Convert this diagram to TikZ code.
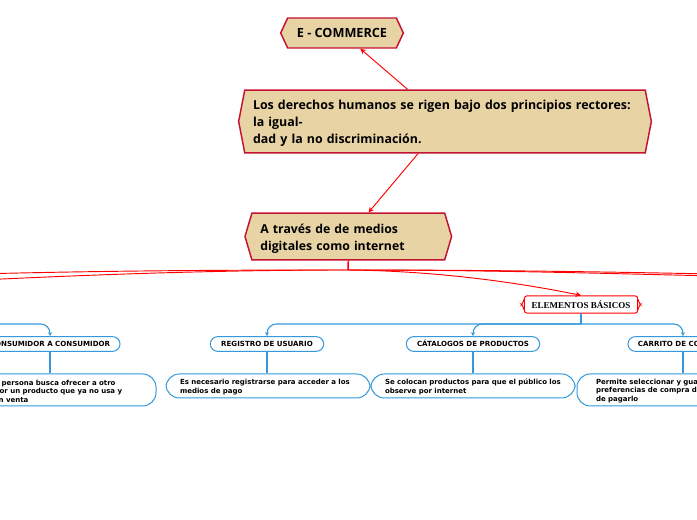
\documentclass[tikz,border=0pt]{standalone}
\usepackage{fontspec}
\setmainfont{Open Sans}
\newfontfamily\boxfont{DejaVu Sans}
\newfontfamily\serifont{Liberation Serif}
\usepackage{xcolor}
\usetikzlibrary{shapes.symbols, arrows.meta}
\definecolor{titlefill}{RGB}{232, 211, 165}
\definecolor{titleline}{RGB}{196, 18, 48}
\definecolor{linkred}{RGB}{255, 0, 0}
\definecolor{linkblue}{RGB}{52, 152, 219}

\begin{document}
\begin{tikzpicture}[x=0.75pt, y=-0.75pt,
    every node/.style={align=left},
    titlebox/.style={signal, signal to=west and east, draw=titleline, fill=titlefill, line width=1.1pt, inner ysep=0pt, font=\bfseries},
    headbox/.style={draw=linkblue, fill=white, rounded corners=5.5pt, line width=0.75pt, minimum height=11pt, inner sep=0pt, align=center, font=\boxfont\bfseries\fontsize{5.3}{6.4}\selectfont, execute at begin node={\rule[-0.6pt]{0pt}{5.2pt}}},
    textbox/.style={draw=linkblue, fill=white, rounded corners=10pt, line width=0.75pt, inner xsep=10.5pt, inner ysep=0pt, font=\boxfont\bfseries\fontsize{5.25}{6.4}\selectfont, execute at begin node={\rule{0pt}{5.6pt}}},
    redlink/.style={draw=linkred, line width=0.7pt},
    redarrow/.style={redlink, -{Stealth[length=4pt, width=4pt]}},
    bluelink/.style={draw=linkblue, line width=0.85pt},
    bluearrow/.style={bluelink, rounded corners=7pt, -{Stealth[length=3pt, width=3pt]}}]
        \useasboundingbox (0, 0) rectangle (697, 520);
        \clip (0, 0) rectangle (697, 520);

        % Main titles
        \node[titlebox, signal pointer angle=130, minimum width=92pt, minimum height=22.5pt, inner xsep=6.5pt, font=\bfseries\fontsize{9.5}{12}\selectfont] (ecommerce) at (342, 33) {E - COMMERCE};
        \node[titlebox, signal pointer angle=158, text width=288pt, minimum height=47pt, inner xsep=6.2pt, font=\bfseries\fontsize{9.3}{12.75}\selectfont, execute at begin node={\rule{0pt}{10.2pt}}] (derechos) at (445, 121.5) {Los derechos humanos se rigen bajo dos principios rectores:\\la igual-\\dad y la no discriminación.};
        \node[titlebox, signal pointer angle=147, text width=132pt, minimum height=35pt, inner xsep=6.3pt, font=\bfseries\fontsize{9.2}{12.75}\selectfont, execute at begin node={\rule{0pt}{10.2pt}}] (medios) at (348.3, 236.5) {A través de de medios\\digitales como internet};

        % Hubs and branches that leave the page
        \coordinate (redhub) at (348, 270);
        \coordinate (redoff1) at (-60, 275);
        \coordinate (redoff2) at (-60, 282);
        \coordinate (redoff3) at (760, 275);
        \coordinate (redoff4) at (760, 277);
        \coordinate (bluehub) at (581, 324);
        \coordinate (blueoff) at (-60, 324);

        % Second level
        \node[draw=linkred, fill=white, rounded corners=2pt, line width=0.75pt, minimum width=85pt, minimum height=13pt, inner sep=0pt, align=center, font=\serifont\bfseries\fontsize{6.75}{8}\selectfont] (elementos) at (581, 304.5) {ELEMENTOS BÁSICOS};

        % Headings
        \node[headbox, minimum width=105pt] (consumidor) at (50, 344) {CONSUMIDOR A CONSUMIDOR};
        \node[headbox, minimum width=85pt] (registro) at (267, 344) {REGISTRO DE USUARIO};
        \node[headbox, minimum width=100pt] (catalogos) at (473, 344) {CÁTALOGOS DE PRODUCTOS};
        \node[headbox, minimum width=82.5pt] (carrito) at (683, 344) {CARRITO DE COMPRAS};

        % Descriptions
        \node[textbox, text width=130.5pt, inner xsep=14.25pt, minimum height=24pt] (consumidortext) at (50, 390) {\hspace*{15.75pt}Una persona busca ofrecer a otro\\\hspace*{23.75pt}por un producto que ya no usa y\\\hspace*{23.25pt}en venta};
        \node[textbox, text width=132pt, minimum height=18pt] (registrotext) at (268, 386) {Es necesario registrarse para acceder a los\\medios de pago};
        \node[textbox, text width=132pt, minimum height=18pt] (catalogostext) at (473, 386) {Se colocan productos para que el público los\\observe por internet};
        \node[textbox, text width=130.5pt, inner xsep=14.25pt, minimum height=24pt] (carritotext) at (683, 390) {Permite seleccionar y guardar las\\preferencias de compra de\\de pagarlo};

        % Connections
        \draw[redarrow] (derechos) -- (ecommerce);
        \draw[redarrow] (derechos) -- (medios);
        \draw[redlink, line width=1.1pt] (medios.south) -- (redhub);
        \draw[redlink] (redhub) .. controls (200, 270) and (80, 271) .. (redoff1);
        \draw[redlink] (redhub) .. controls (200, 270) and (60, 276) .. (redoff2);
        \draw[redlink] (redhub) .. controls (500, 270) and (620, 272) .. (redoff3);
        \draw[redlink] (redhub) .. controls (500, 270) and (620, 274) .. (redoff4);
        \draw[redarrow] (redhub) .. controls (440, 271) and (520, 283) .. (elementos.north);

        \draw[bluelink] (elementos.south) -- (bluehub);
        \draw[bluearrow] (bluehub) -| (registro.north);
        \draw[bluearrow] (bluehub) -| (catalogos.north);
        \draw[bluearrow] (bluehub) -| (carrito.north);
        \draw[bluearrow] (blueoff) -| (consumidor.north);

        \draw[bluelink] (consumidor.south) -- (consumidortext.north);
        \draw[bluelink] (registro.south) -- (registro.south |- registrotext.north);
        \draw[bluelink] (catalogos.south) -- (catalogostext.north);
        \draw[bluelink] (carrito.south) -- (carritotext.north);

        % Side marks of the second level
        \draw[redlink, rounded corners=1pt] (elementos.west) ++(0, -5) -- ++(-1, 3.5) -- ++(-1.5, 1.5) -- ++(1.5, 1.5) -- ++(1, 3.5);
        \draw[redlink, rounded corners=1pt] (elementos.east) ++(0, -5) -- ++(1, 3.5) -- ++(1.5, 1.5) -- ++(-1.5, 1.5) -- ++(-1, 3.5);
\end{tikzpicture}
\end{document}
